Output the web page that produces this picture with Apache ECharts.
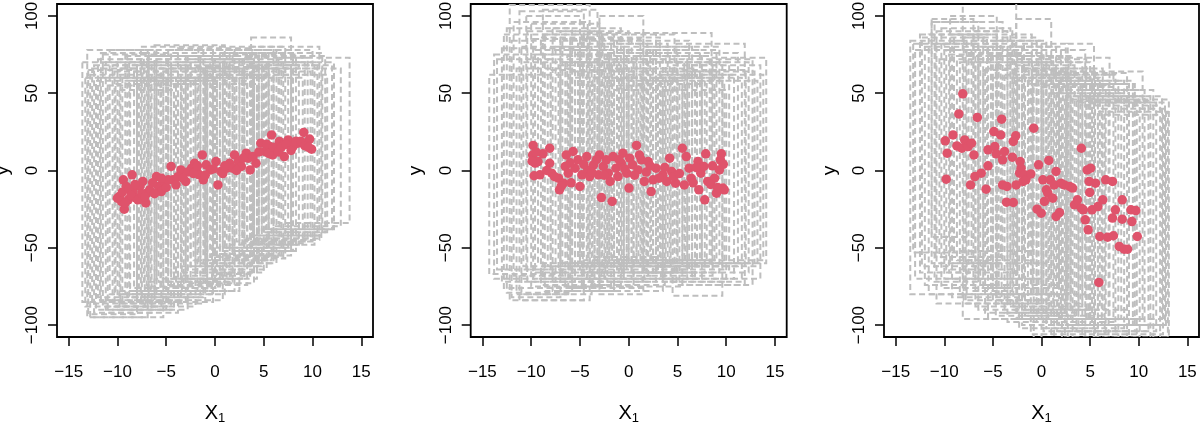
<!DOCTYPE html>
<html>
<head>
<meta charset="utf-8">
<title>Panels X1 vs y</title>
<script src="https://cdn.jsdelivr.net/npm/echarts@6.0.0/dist/echarts.min.js"></script>
<style>
  html, body { margin: 0; padding: 0; background: #fff; }
  #chart { width: 1200px; height: 425px; }
</style>
</head>
<body>
<div id="chart"></div>
<script>
// -----------------------------------------
// DATA
// -----------------------------------------
const xTicks = [-15, -10, -5, 0, 5, 10, 15];
const yTicks = [-100, -50, 0, 50, 100];

// panel 1 : rising cloud
const p1x = [-10.0, -9.8, -9.3, -9.4, -9.1, -8.9, -8.5, -8.4, -8.1, -7.7, -7.4, -7.0, -7.1, -6.7, -6.0, -5.8, -5.5, -5.2, -4.5, -4.3,
  -4.0, -3.5, -3.0, -2.4, -2.1, -1.9, -1.6, -1.3, -1.2, -0.9, -0.5, 0.1, 0.3, 0.6, 1.2, 1.5, 1.8, 2.0, 2.4, 2.7,
  3.2, 3.4, 3.6, 4.2, 4.7, 5.1, 5.6, 5.8, 5.9, 6.3, 6.6, 7.0, 7.1, 7.5, 8.0, 8.5, 9.1, 9.4, 9.7, 9.9,
  -9.6, -9.5, -9.2, -8.8, -8.6, -8.2, -7.9, -7.5, -7.2, -6.4, -6.2, -5.0, -4.8, -3.8, -2.8, -2.2, -1.8, -1.0, -0.2, 0.8,
  1.0, 2.2, 2.9, 3.9, 4.5, 5.3, 5.5, 6.0, 6.5, 6.8, 7.3, 7.8, 8.3, 8.8, 9.2, 9.6, -3.3, -5.5];
const p1y = [-17.9, -16.8, -25, -6, -10.3, -19, -2.8, -13.6, -17.9, -10.3, -7.1, -14.7, -21, -12.5, -3.9, -10.3, -13.6, -7.1, 2.6, -6,
  -9.3, 0.4, -7.1, 1.5, 4.7, -0.6, -2.8, 10.1, -6, 3.7, 0.4, 5.8, -9.3, -0.6, 1.5, 4.7, 1.5, 10.1, 5.8, 2.6,
  11.2, 8, 0.4, 4.7, 17.7, 12.3, 15.5, 23, 10.1, 14.4, 18.8, 16.6, 9, 19.8, 15.5, 17.7, 24.6, 17.7, 20.3, 13.8,
  -20, -14, -21, -12, -16, -9, -19, -15, -17, -8, -15, -11, -6, -4, -1, -2, 3, -3, 1, -2,
  3, 0, 8, 9, 12, 17, 11, 15, 12, 15, 17, 13, 19, 19, 16, 15, -5, -5];

// panel 2 : flat cloud
const p2x = [-9.8, -9.85, -9.6, -9.7, -9.3, -9.1, -8.8, -8.1, -8.1, -7.9, -7.2, -7.1, -6.7, -6.5, -6.4, -6.2, -5.7, -5.5, -5.2, -5.0,
  -4.8, -4.3, -4.2, -4.0, -3.6, -3.1, -3.0, -2.8, -2.6, -2.3, -2.1, -1.9, -1.7, -1.6, -1.3, -1.1, -0.75, -0.6, -0.2, 0.03,
  0.1, 0.4, 0.8, 0.95, 1.3, 1.6, 2.0, 2.3, 2.5, 2.8, 3.5, 3.9, 4.2, 4.4, 4.8, 5.5, 5.7, 5.9, 6.2, 6.4,
  7.1, 7.2, 7.4, 7.7, 7.8, 7.9, 8.1, 8.8, 9.0, 9.3, 9.4, 9.5, 9.65, 9.8,
  -9.9, -9.5, -8.4, -7.6, -6.9, -6.0, -4.6, -3.8, -3.3, -2.5, -1.0, 0.6, 1.1, 1.8, 2.2, 3.1, 3.7, 4.6, 5.2, 6.6,
  6.9, 8.4, 8.6, 9.1, 9.7, -0.4, -5.9];
const p2y = [16.2, 10, 4.7, -3.4, 5.8, -2.8, 10.8, 14.4, 4.7, -1.7, -5, -12.5, -8.2, 2.6, 10.1, -1.7, 12.3, 1.5, 6.9, -10.3,
  -2.8, 9, 0.4, -3.9, 3.7, -2.8, 10.1, -17.5, 2.6, 6.9, -1.7, -7.1, -20, 9, 1.5, -3.9, 4.7, 11.2, -1.7, -11.4,
  8, 3.7, 16.2, 0.4, 6.9, -7.1, 5.8, -13.6, -6, 1.5, -2.8, -7.1, 8, -0.6, -8.2, 14.4, -9.3, 9, 1.5, -5,
  5.8, -12.5, -1.7, 2.6, -19, 10.8, -7.1, -5, -14.7, 0.4, 6.9, 10.8, -11.4, -12.5,
  6, 12, 0, -4, -10, 5, 4, -1, 7, -3, 7, -3, 10, -1, 3, -5, 2, -4, -2, -8,
  2, -9, 3, -11, 4, 1, -8];

// panel 3 : falling cloud
const p3x = [-9.9, -9.7, -9.8, -9.1, -8.7, -8.5, -8.2, -8.1, -7.9, -7.7, -7.55, -7.3, -7.2, -6.95, -6.85, -6.6, -6.2, -5.7, -5.5, -5.5,
  -4.9, -4.8, -4.65, -4.2, -4.1, -4.0, -4.0, -3.8, -3.6, -3.55, -3.0, -2.9, -2.9, -2.65, -2.6, -2.25, -2.2, -2.1, -1.9, -1.75,
  -1.6, -1.1, -0.8, -0.45, -0.3, -0.03, 0.14, 0.3, 0.5, 0.65, 0.75, 0.9, 1.15, 1.3, 1.5, 1.5, 1.85, 2.0, 2.35, 2.9,
  3.2, 3.4, 3.7, 4.1, 4.1, 4.3, 4.5, 4.7, 4.8, 4.9, 4.96, 5.05, 5.2, 5.55, 5.8, 5.9, 6.0, 6.3, 6.6, 6.8,
  7.3, 7.3, 7.4, 7.6, 8.0, 8.3, 8.3, 8.5, 8.85, 9.2, 9.3, 9.7, 9.85];
const p3y = [19.2, 11.2, -5.6, 23, 15.9, 36.6, 14.4, 49.6, 19.8, 17.2, 15.5, -9.3, 17.7, 10.1, -3.9, 34.3, -1.7, -12.1, 13.4, 3,
  25.2, 15.5, 10.8, 23, 33.2, 6.9, -9.3, 12.3, -20.5, -10.3, 8.6, 18.8, -20.7, 22.4, -9.3, -1.7, 5.8, 1.5, -7.1, -2.8,
  -6, -2.2, 27.4, -25, 3.7, -27.6, -6, -20, -12.5, -14.7, 6.5, -6, -17.9, -9.3, -0.6, -29.7, -27.2, -8.2, -9.3, -10.3,
  -11.4, -22.2, -19, 14.4, -24.4, -25.4, -31.9, 0.4, -38.4, -7.1, -14.2, 1.5, -25.4, -8.2, -23.3, -72.4, -42.7, -19, -6, -43.1,
  -7.1, -30.8, -42.2, -25.4, -49.1, -19, -31.5, -50.9, -50.9, -25.4, -33, -25.9, -42.7];

// dashed boxes: [xLeft, xRight, yBottom, yTop]
const rects1 = [
  [-13.6, -6.2, -85, 70], [-13.1, -6.9, -95, 78], [-12.8, -5.3, -95, 62], [-12.2, -5.0, -90, 58], [-11.5, -4.5, -88, 75],
  [-11.0, -3.8, -92, 55], [-10.5, -3.0, -85, 68], [-10.0, -2.5, -80, 72], [-9.5, -2.0, -88, 60], [-9.0, -1.2, -82, 78],
  [-8.3, -0.8, -78, 64], [-7.6, -0.2, -85, 80], [-7.0, 0.5, -75, 70], [-6.2, 1.0, -80, 81], [-5.8, 1.8, -72, 62],
  [-5.0, 2.5, -78, 74], [-4.5, 3.0, -70, 66], [-3.8, 3.6, -68, 79], [-3.2, 4.0, -73, 58], [-2.5, 4.5, -62, 72],
  [-2.0, 5.0, -66, 67], [-1.5, 5.5, -58, 76], [-0.8, 6.0, -60, 62], [-0.2, 6.8, -55, 70], [0.5, 7.2, -57, 80],
  [1.0, 7.8, -50, 66], [1.8, 8.3, -52, 75], [2.5, 9.0, -47, 60], [3.0, 9.5, -45, 73], [3.7, 7.8, -55, 86],
  [3.6, 10.7, -45, 80], [4.0, 10.2, -48, 68], [4.5, 11.0, -42, 76], [5.0, 11.5, -40, 62], [5.5, 12.2, -38, 70],
  [6.0, 12.9, -36, 66], [6.5, 13.8, -34, 73], [-13.0, -8.0, -93, 65], [-12.0, -7.5, -82, 72], [-9.8, -4.2, -90, 52],
  [-6.8, -1.5, -82, 74], [-4.0, 0.0, -76, 60], [0.0, 4.0, -67, 72], [2.0, 6.0, -55, 78], [-10.8, -6.0, -80, 78],
  [-12.6, -4.8, -86, 66], [-11.8, -3.5, -84, 60], [-11.2, -2.8, -90, 70], [-10.2, -1.8, -78, 56], [-9.7, -1.0, -86, 66],
  [-9.2, -0.3, -80, 74], [-8.7, 0.2, -76, 58], [-8.0, 0.8, -84, 68], [-7.3, 1.5, -72, 76], [-6.6, 2.0, -78, 60],
  [-6.0, 2.8, -70, 72], [-5.3, 3.3, -74, 64], [-4.8, 3.8, -66, 78], [-4.2, 4.3, -70, 56], [-3.5, 4.8, -62, 70],
  [-2.8, 5.3, -64, 74], [-2.2, 5.8, -58, 60], [-1.7, 6.3, -60, 78], [-1.1, 6.6, -54, 66], [-0.5, 7.0, -56, 72],
  [0.2, 7.5, -50, 62], [0.8, 8.0, -52, 76], [1.4, 8.6, -48, 68], [2.2, 9.2, -46, 70], [2.8, 9.8, -44, 64],
  [3.3, 10.0, -46, 78], [3.9, 10.5, -42, 70], [4.3, 10.9, -44, 66], [4.8, 11.3, -40, 74], [5.2, 12.0, -38, 68],
  [-13.3, -7.2, -88, 60], [-12.4, -6.5, -92, 68], [-11.7, -6.8, -84, 76], [-10.3, -5.5, -88, 64], [-8.8, -4.8, -82, 70],
  [-7.8, -3.4, -80, 58], [-5.6, -0.8, -76, 66], [-3.0, 1.2, -70, 74], [-1.0, 3.0, -64, 64], [1.5, 5.5, -58, 70]
];
const rects2 = [
  [-14.3, -7.0, -67, 62], [-13.0, -5.5, -72, 79], [-12.2, -4.0, -84, 107], [-12.5, -5.8, -79, 92], [-11.2, -4.6, -84, 103],
  [-10.8, -3.5, -62, 70], [-10.0, -3.0, -75, 95], [-9.8, -2.5, -70, 85], [-9.3, -2.0, -60, 75], [-8.6, -1.5, -78, 88],
  [-8.0, -1.0, -66, 65], [-7.5, -0.5, -72, 80], [-7.0, 0.0, -60, 90], [-6.5, 0.5, -75, 70], [-6.0, 1.2, -62, 85],
  [-5.5, 1.6, -70, 60], [-5.0, 2.2, -58, 78], [-4.3, 2.8, -72, 89], [1.5, 8.5, -62, 89], [-4.0, 3.0, -66, 55],
  [-3.5, 3.5, -78, 72], [-3.0, 4.0, -60, 82], [-2.4, 4.5, -70, 66], [-2.0, 5.0, -58, 76], [-1.5, 5.5, -75, 52],
  [-1.0, 6.0, -62, 70], [-0.5, 6.5, -66, 80], [0.0, 7.0, -58, 62], [0.5, 7.5, -70, 74], [1.0, 8.0, -60, 56],
  [2.0, 8.6, -68, 70], [2.5, 9.0, -58, 78], [3.0, 9.6, -62, 60], [4.5, 9.6, -81, 68], [4.9, 11.9, -74, 82],
  [5.5, 12.0, -60, 65], [6.0, 12.7, -74, 72], [7.0, 13.2, -62, 58], [8.5, 14.1, -60, 73], [-11.5, -6.2, -80, 66],
  [-13.5, -8.0, -64, 72], [3.5, 10.0, -72, 52], [-3.0, 1.5, -80, 100],
  [-13.8, -6.0, -70, 75], [-12.8, -4.8, -76, 88], [-11.8, -4.2, -68, 96], [-11.0, -3.8, -80, 80], [-10.4, -2.8, -72, 90],
  [-9.6, -2.2, -66, 78], [-9.0, -1.8, -74, 86], [-8.3, -1.2, -62, 72], [-7.8, -0.8, -78, 92], [-7.2, -0.2, -64, 68],
  [-6.8, 0.3, -70, 84], [-6.3, 0.8, -60, 74], [-5.8, 1.4, -76, 64], [-5.2, 1.9, -62, 82], [-4.7, 2.5, -68, 70],
  [-4.1, 3.2, -56, 86], [-3.7, 3.7, -74, 60], [-3.2, 4.2, -62, 76], [-2.7, 4.7, -66, 88], [-2.2, 5.2, -72, 58],
  [-1.7, 5.7, -60, 72], [-1.2, 6.2, -64, 84], [-0.7, 6.8, -70, 66], [-0.2, 7.3, -60, 78], [0.3, 7.8, -66, 60],
  [0.8, 8.3, -62, 74], [1.3, 8.8, -58, 64], [1.8, 9.3, -66, 80], [2.3, 9.8, -60, 58], [2.8, 10.3, -64, 70],
  [3.3, 10.8, -70, 62], [3.8, 11.2, -62, 76], [4.3, 11.6, -72, 60], [5.0, 12.3, -66, 70], [5.8, 12.9, -60, 64],
  [6.5, 13.5, -70, 68], [7.5, 13.8, -58, 62], [-12.0, -7.0, -82, 84], [-10.5, -5.0, -64, 100], [-8.8, -3.2, -70, 104]
];
const rects3 = [
  [-13.5, -7.7, -80, 84], [-13.2, -6.5, -53, 82], [-12.0, -5.0, -74, 80], [-11.3, -7.0, -43, 98], [-11.3, -4.0, -60, 96],
  [-10.8, -3.5, -86, 90], [-10.0, -2.8, -70, 82], [-9.5, -2.0, -66, 75], [-8.1, -2.6, -96, 110], [-9.0, -1.0, -52, 88],
  [-8.4, -0.9, -80, 70], [-7.8, 0.0, -86, 78], [-7.2, 0.5, -60, 84], [-6.5, 1.2, -90, 72], [-6.0, 1.8, -76, 65],
  [-5.5, 2.0, -96, 80], [-5.0, 2.6, -84, 60], [-4.4, 3.0, -80, 74], [-3.8, 3.8, -92, 62], [-3.2, 4.2, -88, 70],
  [-2.6, 1.0, -70, 98], [-2.5, 5.0, -96, 58], [-2.0, 5.5, -100, 66], [-1.4, 6.0, -90, 60], [-0.8, 6.6, -110, 55],
  [-0.3, 7.0, -96, 73], [0.2, 7.6, -104, 62], [0.7, 8.2, -96, 50], [1.3, 8.8, -110, 63], [1.8, 9.4, -100, 58],
  [2.4, 9.8, -108, 48], [2.7, 5.4, -110, 82], [3.0, 10.4, -96, 64], [3.6, 11.0, -104, 45], [4.2, 11.5, -110, 52],
  [4.8, 12.4, -96, 48], [5.5, 13.1, -108, 46], [6.2, 12.8, -100, 40], [-10.5, -5.2, -56, 72], [-12.5, -6.0, -66, 88],
  [-1.0, 4.5, -80, 78], [3.0, 9.0, -90, 56],
  [-13.0, -6.8, -70, 78], [-12.3, -5.6, -62, 86], [-11.6, -4.6, -80, 88], [-10.9, -4.2, -56, 82], [-10.3, -3.2, -76, 92],
  [-9.8, -2.5, -64, 78], [-9.2, -1.8, -82, 84], [-8.7, -1.3, -58, 74], [-8.0, -0.5, -84, 86], [-7.5, 0.2, -70, 76],
  [-6.8, 0.8, -88, 70], [-6.3, 1.5, -74, 80], [-5.8, 2.2, -92, 66], [-5.2, 2.8, -80, 74], [-4.7, 3.4, -94, 68],
  [-4.1, 4.0, -86, 60], [-3.5, 4.6, -98, 72], [-2.9, 5.2, -90, 64], [-2.3, 5.8, -102, 60], [-1.7, 6.3, -94, 66],
  [-1.1, 6.9, -106, 56], [-0.5, 7.4, -98, 62], [0.0, 7.9, -110, 54], [0.5, 8.5, -102, 58], [1.0, 9.0, -110, 50],
  [1.6, 9.6, -104, 56], [2.1, 10.1, -110, 46], [2.6, 10.6, -100, 52], [3.2, 11.2, -110, 48], [3.8, 11.8, -104, 44],
  [4.5, 12.2, -110, 42], [5.2, 12.7, -100, 44], [5.8, 13.0, -110, 38], [6.5, 12.5, -106, 36], [-11.0, -6.5, -72, 96],
  [-9.4, -4.6, -60, 100], [-7.0, -3.0, -78, 90], [-4.6, 0.0, -84, 84], [-2.0, 2.5, -92, 82], [0.5, 5.0, -100, 70]
];

// -----------------------------------------
// LAYOUT / STYLE
// -----------------------------------------
const FONT = "'Liberation Sans Narrow', 'Liberation Sans', sans-serif";
const RED = '#DF536B';
const GRAY = '#BEBEBE';
const gridLefts = [57, 470.7, 884];
const panels = [
  { xs: p1x, ys: p1y, rects: rects1 },
  { xs: p2x, ys: p2y, rects: rects2 },
  { xs: p3x, ys: p3y, rects: rects3 }
];

const minusFmt = v => String(v).replace('-', '\u2212');

function renderRect(params, api) {
  const a = api.coord([api.value(0), api.value(3)]);
  const b = api.coord([api.value(1), api.value(2)]);
  return {
    type: 'rect',
    shape: { x: a[0], y: a[1], width: b[0] - a[0], height: b[1] - a[1] },
    style: { fill: 'none', stroke: GRAY, lineWidth: 2, lineDash: [6, 3.5] }
  };
}

const grid = [], xAxis = [], yAxis = [], series = [];

panels.forEach((p, i) => {
  // fixed plot box, like R's par(mfrow) layout - don't let v6 shrink it for labels
  grid.push({
    left: gridLefts[i], top: 4, width: i === 2 ? 315 : 316, height: 333,
    outerBoundsMode: 'none', containLabel: false,
    show: true, borderColor: '#000', borderWidth: 1.8, backgroundColor: 'transparent'
  });
  xAxis.push({
    type: 'value', gridIndex: i, min: -16.2, max: 16.2,
    splitLine: { show: false },
    axisLine: { show: false, onZero: false },
    axisTick: { show: true, customValues: xTicks, length: 9, lineStyle: { color: '#000', width: 1.5 } },
    axisLabel: { customValues: xTicks, formatter: minusFmt, margin: 27, color: '#000', fontFamily: FONT, fontSize: 17 },
    name: '{a|X}{b|1}', nameLocation: 'middle', nameGap: 64,
    nameTextStyle: {
      rich: {
        a: { fontFamily: FONT, fontSize: 20, color: '#000', lineHeight: 24 },
        b: { fontFamily: FONT, fontSize: 13, color: '#000', lineHeight: 13, verticalAlign: 'bottom' }
      }
    }
  });
  yAxis.push({
    type: 'value', gridIndex: i, min: -107.7, max: 107.7,
    splitLine: { show: false },
    axisLine: { show: false, onZero: false },
    axisTick: { show: true, customValues: yTicks, length: 9, lineStyle: { color: '#000', width: 1.5 } },
    axisLabel: { customValues: yTicks, formatter: minusFmt, rotate: 90, margin: 16, color: '#000', fontFamily: FONT, fontSize: 17 },
    name: 'y', nameLocation: 'middle', nameGap: 45,
    nameTextStyle: { fontFamily: FONT, fontSize: 19, color: '#000' }
  });
  series.push({
    type: 'custom', xAxisIndex: i, yAxisIndex: i, clip: true, silent: true,
    renderItem: renderRect,
    encode: { x: [0, 1], y: [2, 3] },
    data: p.rects
  });
  series.push({
    type: 'scatter', xAxisIndex: i, yAxisIndex: i, symbolSize: 9.5, silent: true,
    itemStyle: { color: RED, opacity: 1 },
    data: p.xs.map((x, k) => [x, p.ys[k]])
  });
});

const chart = echarts.init(document.getElementById('chart'), null, { renderer: 'canvas' });
chart.setOption({ animation: false, backgroundColor: '#fff', grid, xAxis, yAxis, series });
</script>
</body>
</html>
